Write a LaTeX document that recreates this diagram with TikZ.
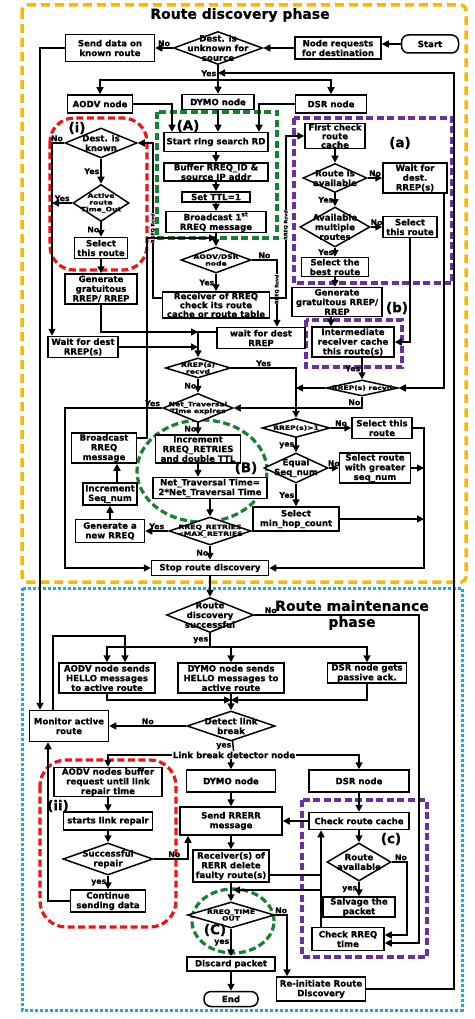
\documentclass[tikz,border=0pt]{standalone}
\usepackage{fontspec}
\setmainfont{DejaVu Sans}[BoldFeatures={FakeBold=0.6}]
\newfontfamily\tinyflow{DejaVu Sans}[FakeStretch=1.25,BoldFeatures={FakeBold=0.6}]
\usetikzlibrary{arrows.meta,shapes.geometric,calc,positioning}
\definecolor{phaseyellow}{RGB}{247,186,0}
\definecolor{phaseblue}{RGB}{28,168,228}
\definecolor{grpgreen}{RGB}{22,128,52}
\definecolor{grpred}{RGB}{236,22,22}
\definecolor{grppurple}{RGB}{108,48,158}
\newcommand{\bxfont}{\fontsize{8.6}{9.7}\selectfont\bfseries}
\newcommand{\smfont}{\tinyflow\fontsize{6.1}{6.8}\selectfont\bfseries}
\tikzset{
  blk/.style 2 args={draw,line width=1.5pt,fill=white,align=center,inner sep=0.5pt,
    font=\bxfont,minimum width=#1,minimum height=#2},
  dec/.style 2 args={draw,diamond,line width=1.5pt,fill=white,inner sep=0pt,
    minimum width=#1,minimum height=#2},
  dtxt/.style={font=\bxfont,align=center,inner sep=0pt},
  stxt/.style={font=\smfont,align=center,inner sep=0pt},
  term/.style 2 args={blk={#1}{#2},rounded corners=7pt},
  flow/.style={line width=1.5pt,-{Triangle[length=7pt,width=7pt]}},
  wire/.style={line width=1.5pt},
  yn/.style={font=\fontsize{7.8}{8}\selectfont\bfseries,inner sep=1pt},
  rcvd/.style={font=\fontsize{4.8}{5}\selectfont\bfseries,rotate=90,fill=white,inner sep=0.3pt},
  grp/.style={line width=3.2pt,dash pattern=on 7pt off 3.5pt},
  tag/.style={font=\fontsize{13.5}{14}\selectfont\bfseries,inner sep=0pt},
  ttl/.style={font=\fontsize{14}{16}\selectfont\bfseries,align=center,inner sep=0pt}
}
\begin{document}
\begin{tikzpicture}[x=1pt,y=-1pt]
\useasboundingbox (0,0) rectangle (474,1019);
% phase frames and groups
\draw[phaseyellow,line width=3.5pt,dash pattern=on 9pt off 5pt,rounded corners=5pt] (22,5) rectangle (466,582);
\draw[phaseblue,line width=3pt,dash pattern=on 2.6pt off 2.4pt] (22,588) rectangle (462,1010);
\draw[grpgreen,grp] (157,112) rectangle (277,238);
\draw[grpred,grp,rounded corners=24pt] (50,118) rectangle (147,270);
\draw[grppurple,grp] (294,118) rectangle (452,283);
\draw[grppurple,grp] (306,320) rectangle (402,367);
\draw[grpgreen,grp] (202,471) ellipse [x radius=65pt,y radius=51pt];
\draw[grpred,grp,rounded corners=26pt] (40,760) rectangle (176,927);
\draw[grppurple,grp] (302,800) rectangle (427,957);
\draw[grpgreen,grp] (233,921) ellipse [x radius=41pt,y radius=32pt];
% rails
\coordinate (railL) at (40,0);
\coordinate (railW) at (52,0);
\coordinate (railY) at (65,0);
\coordinate (railB) at (147,0);
\coordinate (railR) at (153,0);
\coordinate (railA) at (172,0);
\coordinate (railE) at (259,0);
\coordinate (railN) at (277,0);
\coordinate (railD) at (286,0);
\coordinate (railM) at (296,0);
\coordinate (railS) at (424,0);
\coordinate (railO) at (454,0);
\coordinate (railF) at (419,0);
\coordinate (railG) at (407,0);
\coordinate (railK) at (188,0);
\coordinate (railJ) at (48,0);
\coordinate (railP) at (287,0);
\coordinate (railX) at (198,0);
% titles
\node[ttl] (ttlrd) at (240,15) {Route discovery phase};
\node[ttl] (ttlrm) at (352,615) {Route maintenance\\phase};
% discovery
\node[term={57pt}{18pt}] (start) at (430,44) {Start};
\node[blk={86pt}{22pt}] (noderq) at (338,48) {Node requests\\for destination};
\node[dec={89pt}{33pt},label={[dtxt]center:Dest. is\\unknown for\\source}] (destunk) at (218,48) {};
\node[blk={89pt}{27pt}] (senddata) at (110,48) {Send data on\\known route};
\node[blk={65pt}{18pt}] (aodv) at (100,104) {AODV node};
\node[blk={72pt}{15pt}] (dymo) at (218,102) {DYMO node};
\node[blk={71pt}{18pt}] (dsr) at (331,104) {DSR node};
\node[blk={104pt}{19pt}] (ringsrch) at (216,142) {Start ring search RD};
\node[blk={104pt}{18pt}] (buffer) at (216,172) {Buffer RREQ\_ID \&\\source IP addr};
\node[blk={68pt}{10pt}] (setttl) at (216,197) {Set TTL=1};
\node[blk={100pt}{19pt}] (bcast1) at (216,222) {Broadcast 1\textsuperscript{st}\\RREQ message};
\node[dec={70pt}{26pt},label={[stxt]center:AODV/DSR\\node}] (aodvdsr) at (216,260) {};
\node[blk={107pt}{26pt},font=\fontsize{8.6}{9}\selectfont\bfseries] (receiver) at (216,305) {Receiver of RREQ\\check its route\\cache or route table};
\node[dec={72pt}{30pt},label={[dtxt]center:Dest. is\\known}] (destkn) at (101,143) {};
\node[dec={56pt}{37pt},label={[stxt]center:Active\\route\\Time\_Out}] (actto) at (101,203) {};
\node[blk={53pt}{21pt}] (selrt1) at (101,248) {Select\\this route};
\node[blk={72pt}{30pt}] (gengrat1) at (101,289) {Generate\\gratuitous\\RREP/ RREP};
\node[blk={70pt}{21pt}] (waitl) at (83,347) {Wait for dest\\RREP(s)};
\node[blk={88pt}{21pt}] (waitc) at (261,338) {wait for dest\\RREP};
\node[blk={60pt}{25pt},font=\fontsize{8.6}{8.8}\selectfont\bfseries] (chkcache) at (335,136) {First check\\route\\cache};
\node[dec={64pt}{29pt},label={[dtxt]center:Route is\\available}] (rtavail) at (335,178) {};
\node[blk={64pt}{30pt}] (waitr) at (415,178) {Wait for\\dest.\\RREP(s)};
\node[dec={70pt}{40pt},label={[dtxt]center:Available\\multiple\\routes}] (multi) at (335,227) {};
\node[blk={54pt}{21pt}] (selrt2) at (410,227) {Select\\this route};
\node[blk={67pt}{19pt}] (selbest) at (335,267) {Select the\\best route};
\node[blk={90pt}{29pt}] (gengrat2) at (337,302) {Generate\\gratuitous RREP/\\RREP};
\node[blk={82pt}{30pt}] (interm) at (353,342) {Intermediate\\receiver cache\\this route(s)};
\node[dec={72pt}{16pt},label={[stxt]center:RREP(s) recvd}] (rrepr) at (362,388) {};
\node[dec={65pt}{20pt},label={[stxt]center:RREP(s)\\recvd}] (rrepl) at (198,368) {};
\node[dec={70pt}{29pt},label={[stxt]center:Net\_Traversal\\Time expires}] (nettrav) at (198,408) {};
\node[blk={85pt}{28pt}] (incretr) at (198,449) {Increment\\RREQ\_RETRIES\\and double TTL};
\node[blk={114pt}{21pt}] (nettime) at (210,488) {Net\_Traversal Time=\\2*Net\_Traversal Time};
\node[dec={82pt}{28pt},label={[stxt]center:RREQ\_RETRIES\\<MAX\_RETRIES}] (retries) at (210,531) {};
\node[blk={69pt}{23pt}] (genrreq) at (110,531) {Generate a\\new RREQ};
\node[blk={54pt}{22pt}] (incseq) at (110,494) {Increment\\Seq\_num};
\node[blk={65pt}{30pt}] (bcast) at (104,448) {Broadcast\\RREQ\\message};
\node[blk={117pt}{15pt}] (stoprd) at (210,568) {Stop route discovery};
\node[dec={68pt}{19pt},label={[stxt]center:RREP(s)>1}] (rrepgt) at (296,428) {};
\node[blk={60pt}{21pt}] (selrt3) at (382,428) {Select this\\route};
\node[dec={64pt}{30pt},label={[dtxt]center:Equal\\Seq\_num}] (eqseq) at (296,468) {};
\node[blk={71pt}{30pt}] (selgr) at (375,468) {Select route\\with greater\\seq\_num};
\node[blk={86pt}{24pt}] (selmin) at (296,519) {Select\\min\_hop\_count};
% maintenance
\node[dec={87pt}{35pt},label={[dtxt]center:Route\\discovery\\successful}] (rdsucc) at (210,615) {};
\node[blk={96pt}{30pt}] (aodvh) at (107,678) {AODV node sends\\HELLO messages\\to active route};
\node[blk={106pt}{30pt}] (dymoh) at (231,678) {DYMO node sends\\HELLO messages to\\active route};
\node[blk={79pt}{20pt}] (dsrack) at (367,673) {DSR node gets\\passive ack.};
\node[blk={79pt}{31pt}] (monitor) at (69,726) {Monitor active\\route};
\node[dec={88pt}{30pt},label={[dtxt]center:Detect link\\break}] (detect) at (231,726) {};
\node[font=\bxfont,fill=white,inner sep=0.5pt] (lbdn) at (234,755) {Link break detector node};
\node[blk={108pt}{29pt}] (aodvbuf) at (108,782) {AODV nodes buffer\\request until link\\repair time};
\node[blk={89pt}{18pt}] (startrep) at (108,821) {starts link repair};
\node[dec={90pt}{32pt},label={[dtxt]center:Successful\\repair}] (succrep) at (108,859) {};
\node[blk={75pt}{22pt}] (contsend) at (108,901) {Continue\\sending data};
\node[blk={89pt}{22pt}] (dymo2) at (231,781) {DYMO node};
\node[blk={100pt}{22pt}] (dsr2) at (359,781) {DSR node};
\node[blk={102pt}{28pt}] (sendrerr) at (231,821) {Send RRERR\\message};
\node[blk={100pt}{17pt}] (chkrc) at (359,821) {Check route cache};
\node[dec={64pt}{38pt},label={[dtxt]center:Route\\available}] (rtav2) at (359,862) {};
\node[blk={72pt}{20pt}] (salvage) at (359,907) {Salvage the\\packet};
\node[blk={72pt}{23pt}] (chkrreq) at (348,939) {Check RREQ\\time};
\node[blk={76pt}{32pt}] (recvrerr) at (231,866) {Receiver(s) of\\RERR delete\\faulty route(s)};
\node[dec={87pt}{26pt},label={[stxt]center:RREQ\_TIME\\OUT}] (rreqto) at (231,915) {};
\node[blk={88pt}{14pt}] (discard) at (231,964) {Discard packet};
\node[term={54pt}{15pt}] (endn) at (231,999) {End};
\node[blk={89pt}{24pt}] (reinit) at (321,989) {Re-initiate Route\\Discovery};
% group tags
\node[tag] (tgA) at (188,126) {(A)};
\node[tag] (tga) at (400,143) {(a)};
\node[tag] (tgb) at (397,308) {(b)};
\node[tag] (tgB) at (246,468) {(B)};
\node[tag] (tgi) at (77,128) {(i)};
\node[tag] (tgii) at (58,806) {(ii)};
\node[tag] (tgc) at (391,839) {(c)};
\node[tag] (tgC) at (215,930) {(C)};
% connectors, discovery
\coordinate (yesjn) at (218,80);
\coordinate (yesarr) at (218,73);
\coordinate (bcjoin) at (216,238);
\coordinate (rcvout) at ([yshift=7pt]receiver.east);
\coordinate (rcvin) at ([yshift=7pt]receiver.west);
\coordinate (wcout) at ([yshift=6pt]waitc.west);
\coordinate (sequp) at ([xshift=7pt]incseq.north);
\coordinate (gg2out) at ([xshift=-6pt]gengrat2.south);
\draw[flow] (start.west) -- (start.west -| noderq.east);
\draw[flow] (noderq.west) -- (destunk.east);
\draw[flow] (destunk.west) -- node[yn,above]{No} (senddata.east);
\draw[flow] (senddata.west) -| (railL |- monitor.north);
\draw[wire] (destunk.south) -- node[yn,left,pos=0.55]{Yes} (yesjn);
\draw[flow] (yesjn) -| (aodv.north);
\draw[flow] (yesjn) -| (dsr.north);
\draw[flow] (yesjn) -- (dymo.north);
\draw[flow] (aodv.east) -| (railA |- ringsrch.north);
\draw[flow] (dymo.south) -- (dymo.south |- ringsrch.north);
\draw[flow] (dsr.west) -| (railE |- ringsrch.north);
\draw[flow] (ringsrch) -- (buffer);
\draw[flow] (buffer) -- (setttl);
\draw[flow] (setttl) -- (bcast1);
\draw[flow] (bcast1) -- (aodvdsr);
\draw[flow] (aodvdsr) -- node[yn,left]{Yes} (receiver);
\draw[flow] (aodvdsr.east) -| node[yn,above,pos=0.25]{No} node[rcvd,pos=0.72]{RREQ Rcvd} (railN |- waitc.north);
\draw[flow] (rcvout) -- (railD |- rcvout) -- node[rcvd,pos=0.45]{RREQ Rcvd} (railD |- chkcache.west) -- (chkcache.west);
\draw[flow] (rcvin) -- (railR |- rcvin) -- node[rcvd,pos=0.45]{RREQ Rcvd} (railR |- destkn.east) -- (destkn.east);
\draw[flow] ([yshift=10pt]bcast.east) -| (railB |- bcjoin) -- (bcjoin);
\draw[flow] (destkn.west) -| node[yn,above,pos=0.3]{No} (railW |- waitl.north);
\draw[flow] (destkn) -- node[yn,left]{Yes} (actto);
\draw[flow] (actto.west) -- node[yn,above]{Yes} (railW |- actto.west);
\draw[flow] (actto) -- node[yn,left]{No} (selrt1);
\draw[flow] (selrt1) -- (gengrat1);
\draw[flow] (wcout) -| (rrepl.north);
\draw[flow] (gengrat1.south) |- (railX |- wcout);
\draw[flow] (waitl.east) -- (waitl.east -| railX);
\draw[flow] (rrepl.east) -| node[yn,above,pos=0.25]{Yes} (rrepgt.north);
\draw[flow] (rrepl) -- node[yn,left]{No} (nettrav);
\draw[flow] (nettrav.west) -| node[yn,above,pos=0.05]{Yes} (railY |- stoprd.west) -- (stoprd.west);
\draw[flow] (nettrav) -- node[yn,left]{No} (incretr);
\draw[flow] (incretr.south) -- (incretr.south |- nettime.north);
\draw[flow] (nettime) -- (retries);
\draw[flow] (retries) -- node[yn,above]{Yes} (genrreq);
\draw[flow] (retries) -- node[yn,left]{No} (stoprd);
\draw[flow] (genrreq) -- (incseq);
\draw[flow] (sequp) -- (sequp |- bcast.south);
\draw[flow] (chkcache) -- (rtavail);
\draw[flow] (rtavail) -- node[yn,above]{No} (waitr);
\draw[flow] (rtavail) -- node[yn,left]{Yes} (multi);
\draw[flow] (multi) -- node[yn,above]{No} (selrt2);
\draw[flow] (multi) -- node[yn,left]{Yes} (selbest);
\draw[flow] (selbest.south) -- (selbest.south |- gengrat2.north);
\draw[flow] (gg2out) -- (gg2out |- interm.north);
\draw[flow] (selrt2.south) |- (interm.east);
\draw[flow] ([xshift=29pt]waitr.south) |- (rrepr.east);
\draw[flow] (rrepr.north |- interm.south) -- node[yn,left]{Yes} (rrepr.north);
\draw[flow] (rrepr.west) -- (railM |- rrepr.west);
\draw[flow] (rrepr.south) |- node[yn,left,pos=0.25]{No} (nettrav.east);
\draw[flow] (rrepgt) -- node[yn,above]{No} (selrt3);
\draw[flow] (rrepgt) -- node[yn,left]{yes} (eqseq);
\draw[flow] (eqseq) -- node[yn,above]{No} (selgr);
\draw[flow] (eqseq) -- node[yn,left]{Yes} (selmin);
\draw[flow] (selrt3.east) -| (railS |- stoprd.east) -- (stoprd.east);
\draw[flow] (selgr.east) -- (railS |- selgr.east);
\draw[flow] (selmin.east) -- (railS |- selmin.east);
\draw[flow] (reinit.east) -| (railO |- yesarr) -- (yesarr);
% connectors, maintenance
\coordinate (yesjn2) at (210,647);
\coordinate (helloin) at ([xshift=18pt]aodvh.north);
\coordinate (dyjn) at (231,700);
\coordinate (crq1) at ([yshift=4pt]chkrreq.east);
\coordinate (crq2) at ([yshift=-4pt]chkrreq.east);
\coordinate (crqup) at ([xshift=-27pt]chkrreq.north);
\coordinate (rerrout) at ([yshift=-9pt]recvrerr.east);
\coordinate (toin) at (233,890);
\draw[flow] (stoprd) -- (rdsucc);
\draw[flow] (rdsucc.east) -| node[yn,above,pos=0.05]{No} (railF |- crq2) -- (crq2);
\draw[wire] (rdsucc.south) -- node[yn,left]{yes} (yesjn2);
\draw[flow] (yesjn2) -| (aodvh.north);
\draw[flow] (yesjn2) -| (dymoh.north);
\draw[flow] (yesjn2) -| (dsrack.north);
\draw[flow] ([xshift=-16pt]monitor.north) -- ++(0,-74) -| (helloin);
\draw[flow] (aodvh.south) |- (dyjn);
\draw[flow] (dsrack.south) |- (dyjn);
\draw[flow] (dymoh) -- (detect);
\draw[flow] (detect) -- node[yn,above]{No} (monitor);
\draw[wire] (detect) -- node[yn,left]{yes} (lbdn);
\draw[flow] (lbdn.west) -| (aodvbuf.north);
\draw[flow] (lbdn.east) -| (dsr2.north);
\draw[flow] (lbdn.south -| dymo2.north) -- (dymo2.north);
\draw[flow] (aodvbuf) -- (startrep);
\draw[flow] (startrep) -- (succrep);
\draw[flow] (succrep) -- node[yn,left]{yes} (contsend);
\draw[flow] (succrep.east) -| node[yn,above,pos=0.3]{No} (railK |- sendrerr.south);
\draw[flow] (contsend.west) -| (railJ |- monitor.south);
\draw[flow] (dymo2) -- (sendrerr);
\draw[flow] (sendrerr) -- (recvrerr);
\draw[flow] (recvrerr) -- (rreqto);
\draw[flow] (dsr2) -- (chkrc);
\draw[flow] (chkrc) -- (sendrerr);
\draw[flow] (chkrc) -- (rtav2);
\draw[flow] (rtav2) -- node[yn,left]{yes} (salvage);
\draw[flow] (rtav2.east) -| node[yn,above,pos=0.3]{No} (railG |- crq1) -- (crq1);
\draw[flow] (crqup) -- (crqup |- chkrc.south);
\draw[wire] (rerrout) -- (crqup |- rerrout);
\draw[flow] (crqup |- toin) -- (toin);
\draw[flow] (rreqto.east) -| node[yn,above,pos=0.25]{No} (railP |- reinit.north);
\draw[flow] (rreqto) -- node[yn,left]{yes} (discard);
\draw[flow] (discard) -- (endn);
\end{tikzpicture}
\end{document}
